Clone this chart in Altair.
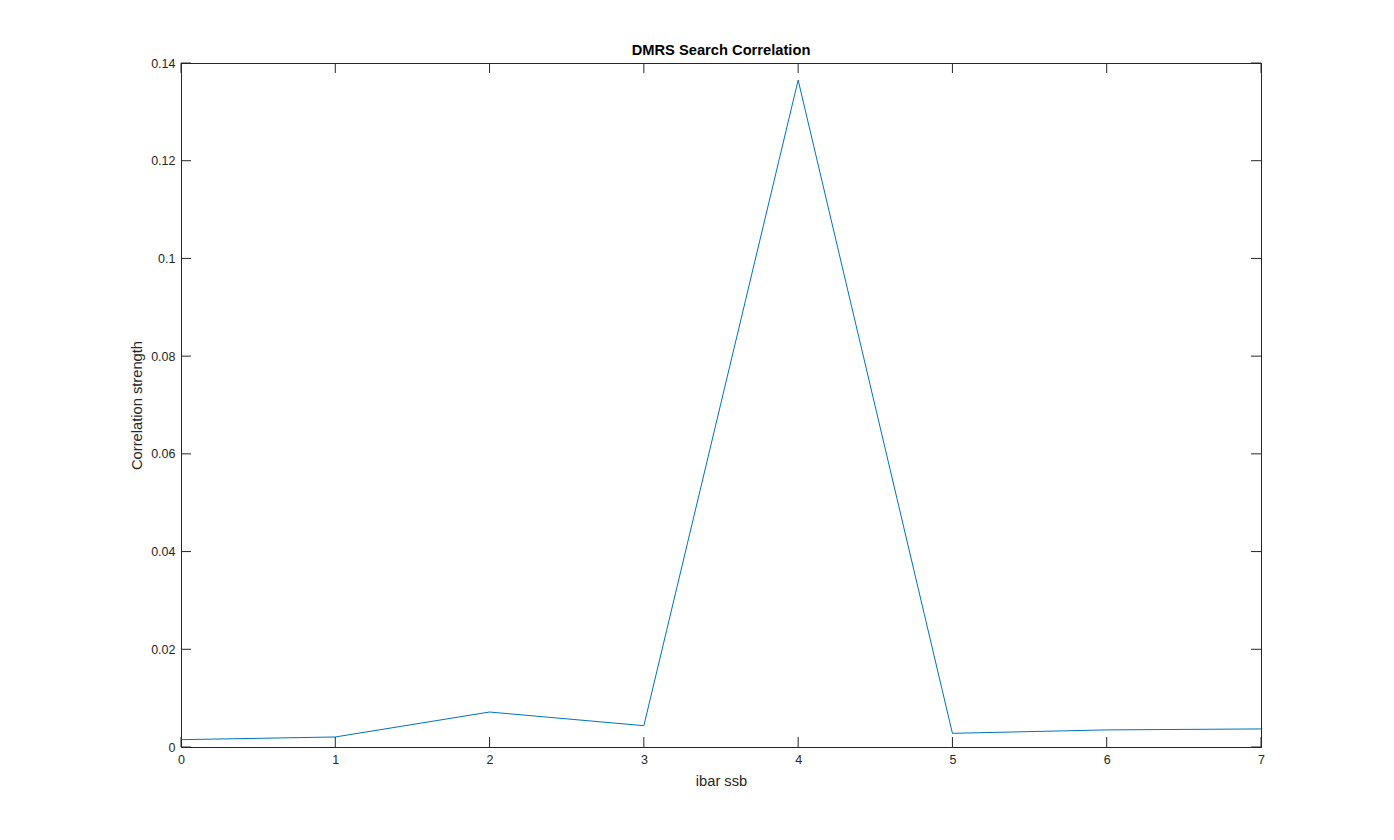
import altair as alt
import pandas as pd

ibar = [0, 1, 2, 3, 4, 5, 6, 7]
corr = [0.0015, 0.00205, 0.00716, 0.00436, 0.1365, 0.0028, 0.0035, 0.0037]
x_ticks = [0, 1, 2, 3, 4, 5, 6, 7]
y_ticks = [0, 0.02, 0.04, 0.06, 0.08, 0.1, 0.12, 0.14]

W, H = 1080, 684
AX = "#262626"
FONT = "Liberation Sans"

df = pd.DataFrame({"ibar": ibar, "corr": corr})
xt = pd.DataFrame({"t": x_ticks})
yt = pd.DataFrame({"t": y_ticks})

xscale = alt.Scale(domain=[0, 7], nice=False, zero=False)
yscale = alt.Scale(domain=[0, 0.14], nice=False)

line = alt.Chart(df).mark_line(color="#0072BD", strokeWidth=1).encode(
    x=alt.X("ibar:Q", scale=xscale, title="ibar ssb",
            axis=alt.Axis(values=x_ticks, format="d", grid=False, ticks=False,
                          labelFlush=False, labelOverlap=False,
                          domainColor=AX, labelColor=AX, titleColor=AX,
                          labelFontSize=12.5, titleFontSize=14.7, labelPadding=6,
                          titlePadding=8, titleFontWeight="normal", labelFont=FONT, titleFont=FONT)),
    y=alt.Y("corr:Q", scale=yscale, title="Correlation strength",
            axis=alt.Axis(values=y_ticks, format="~g", grid=False, ticks=False,
                          labelFlush=False, labelOverlap=False,
                          domainColor=AX, labelColor=AX, titleColor=AX,
                          labelFontSize=12.5, titleFontSize=14.7, labelPadding=6,
                          titlePadding=6, titleFontWeight="normal", labelFont=FONT, titleFont=FONT)),
)

tick_style = dict(color=AX, strokeWidth=1)
xb = alt.Chart(xt).mark_rule(**tick_style).encode(
    x=alt.X("t:Q", scale=xscale), y=alt.value(H), y2=alt.value(H - 10))
xtop = alt.Chart(xt).mark_rule(**tick_style).encode(
    x=alt.X("t:Q", scale=xscale), y=alt.value(0), y2=alt.value(10))
yl = alt.Chart(yt).mark_rule(**tick_style).encode(
    y=alt.Y("t:Q", scale=yscale), x=alt.value(0), x2=alt.value(10))
yr = alt.Chart(yt).mark_rule(**tick_style).encode(
    y=alt.Y("t:Q", scale=yscale), x=alt.value(W), x2=alt.value(W - 10))

chart = alt.layer(line, xb, xtop, yl, yr).properties(
    width=W, height=H,
    title=alt.TitleParams("DMRS Search Correlation", fontSize=14.7, fontWeight="bold",
                          color="#000000", font=FONT, offset=-1, anchor="middle"),
    autosize=alt.AutoSizeParams(type="none"),
    padding={"left": 173, "top": 55, "right": 60, "bottom": 60},
    background="white",
).configure_view(stroke=AX, strokeWidth=1)

chart.save("out.html", embed_options={"renderer": "svg", "actions": False})
